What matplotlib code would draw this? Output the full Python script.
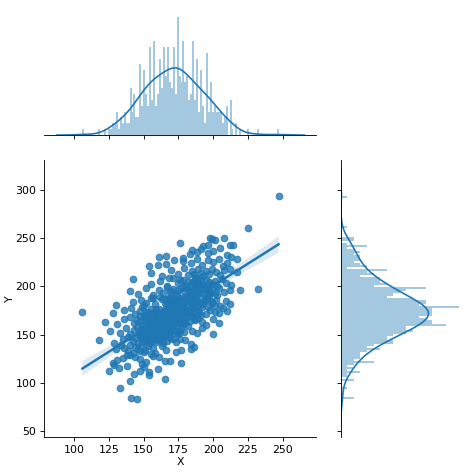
import numpy as np
import matplotlib
matplotlib.use("Agg")
import matplotlib.pyplot as plt
import seaborn as sns

# points, grouped by Y band (low to high)
x_vals = [
    141, 145, 133,
    140, 165, 143, 154,
    125, 132, 147, 154, 138, 150, 129, 160,
    128, 177, 165, 169, 152, 157, 147, 135, 140, 131, 144, 161, 138, 149,
    130, 177, 184, 186, 173, 166, 163, 136, 139, 142, 144, 146, 148, 150, 151, 153, 155, 157, 140, 158, 134, 147,
    118, 129, 135, 139, 142, 144, 146, 147, 149, 150, 151, 152, 153, 154, 155, 156, 157, 158, 159, 160,
    161, 162, 164, 165, 167, 169, 171, 173, 176, 180, 184, 148, 156, 163,
    126, 133, 137, 140, 143, 145, 147, 148, 150, 151, 152, 153, 154, 155, 156, 157, 157, 158, 159, 160,
    160, 161, 175, 162, 163, 164, 165, 166, 167, 168, 169, 170, 171, 172, 174, 175, 177, 179, 182, 185,
    188, 192, 200, 149, 155, 159, 163, 166, 170, 176,
    122, 131, 136, 140, 143, 145, 147, 149, 151, 152, 153, 154, 155, 156, 157, 158, 159, 160, 176, 161,
    162, 163, 178, 164, 165, 165, 166, 167, 180, 168, 169, 169, 170, 171, 172, 173, 174, 175, 176, 177,
    178, 179, 181, 183, 185, 187, 189, 192, 195, 200, 204, 150, 156, 161, 164, 168, 171, 175, 180, 186,
    158, 166, 173, 147,
    106, 128, 136, 141, 144, 147, 149, 151, 153, 155, 156, 174, 158, 177, 160, 191, 179, 196, 164, 165,
    166, 166, 167, 168, 168, 169, 170, 170, 171, 172, 172, 173, 174, 174, 175, 176, 176, 177, 178, 179,
    180, 181, 182, 183, 185, 186, 188, 190, 192, 195, 198, 201, 204, 207, 210, 152, 159, 165, 171, 177,
    183, 189, 163, 169, 175, 180, 158, 174, 187, 161,
    130, 142, 148, 152, 155, 158, 174, 162, 178, 166, 167, 168, 169, 170, 171, 193, 197, 173, 201, 175,
    175, 176, 194, 177, 178, 199, 180, 181, 182, 183, 184, 185, 186, 187, 189, 190, 192, 194, 196, 199,
    202, 205, 209, 212, 157, 165, 171, 176, 181, 188, 163, 174, 179, 185, 168, 195, 150, 178,
    140, 146, 152, 157, 161, 164, 167, 169, 171, 173, 175, 198, 177, 203, 179, 180, 196, 182, 183, 184,
    185, 186, 187, 188, 190, 191, 193, 195, 197, 199, 201, 204, 208, 212, 219, 232, 170, 180, 189, 196,
    174, 184,
    142, 155, 162, 167, 171, 175, 178, 180, 182, 184, 186, 187, 188, 189, 190, 191, 193, 195, 197, 199,
    201, 203, 206, 209, 213, 176, 185, 192, 168, 196,
    155, 163, 170, 175, 179, 182, 185, 187, 189, 191, 193, 195, 197, 199, 202, 205, 208, 212, 217, 186,
    154, 160, 166, 178, 184, 188, 192, 196, 200, 204, 210, 217, 172, 207,
    161, 166, 183, 188, 191, 196, 210, 213, 185, 200, 178,
    176, 193, 196, 199, 201, 205, 212, 214, 198, 208,
    225, 247,
]
y_vals = [
    84, 83, 95,
    102, 104, 109, 108,
    112, 115, 112, 111, 118, 116, 119, 114,
    121, 121, 123, 123, 122, 128, 125, 126, 129, 124, 127, 127, 129, 120,
    135, 134, 135, 137, 132, 134, 138, 136, 133, 131, 137, 135, 139, 132, 134, 138, 130, 136, 139, 131, 139, 133,
    144, 141, 146, 148, 143, 147, 141, 149, 145, 142, 148, 144, 146, 141, 149, 143, 147, 145, 142, 148,
    144, 146, 141, 149, 143, 147, 145, 142, 146, 144, 140, 149, 148, 143,
    154, 152, 157, 151, 155, 158, 153, 156, 150, 159, 154, 157, 152, 155, 158, 151, 156, 153, 159, 150,
    154, 157, 152, 155, 158, 151, 156, 153, 159, 150, 154, 157, 152, 155, 158, 151, 156, 153, 159, 154,
    152, 157, 151, 155, 158, 153, 156, 150, 159, 154,
    163, 161, 166, 168, 162, 165, 169, 160, 164, 167, 161, 166, 163, 168, 160, 165, 162, 169, 164, 167,
    163, 160, 166, 161, 168, 164, 162, 167, 165, 169, 160, 163, 166, 161, 168, 164, 162, 167, 165, 163,
    166, 161, 168, 164, 169, 165, 167, 163, 160, 166, 162, 168, 164, 161, 167, 163, 165, 169, 162, 166,
    165, 162, 168, 164,
    174, 172, 176, 178, 171, 175, 179, 170, 173, 177, 171, 176, 174, 178, 172, 170, 175, 179, 173, 177,
    171, 174, 176, 172, 178, 170, 175, 173, 179, 177, 172, 174, 171, 176, 178, 173, 170, 175, 179, 177,
    171, 174, 176, 172, 178, 175, 170, 173, 179, 171, 176, 174, 172, 178, 175, 173, 177, 170, 179, 171,
    174, 176, 172, 176, 178, 171, 174, 179, 173, 177,
    181, 184, 186, 183, 188, 182, 185, 189, 180, 187, 183, 186, 181, 188, 184, 182, 189, 185, 180, 187,
    182, 184, 186, 188, 181, 183, 189, 185, 187, 180, 184, 186, 182, 188, 181, 185, 183, 189, 187, 184,
    186, 180, 185, 182, 188, 183, 181, 186, 189, 184, 187, 182, 185, 183, 188, 186, 181, 184,
    195, 192, 198, 191, 196, 193, 199, 194, 197, 190, 196, 193, 198, 191, 195, 199, 192, 197, 194, 190,
    196, 193, 198, 191, 195, 199, 192, 197, 194, 196, 193, 198, 194, 196, 196, 197, 195, 199, 193, 197,
    192, 191,
    208, 203, 206, 201, 209, 204, 207, 202, 205, 200, 206, 203, 208, 201, 204, 209, 202, 207, 205, 203,
    206, 201, 208, 204, 202, 207, 205, 203, 209, 201,
    214, 211, 217, 213, 219, 212, 216, 210, 218, 214, 211, 216, 213, 218, 215, 212, 217, 218, 215, 213,
    221, 222, 223, 226, 224, 228, 222, 227, 225, 229, 224, 229, 227, 221,
    231, 232, 234, 236, 239, 235, 233, 231, 238, 237, 230,
    245, 242, 243, 249, 248, 240, 243, 243, 250, 250,
    261, 294,
]

x = np.array(x_vals, dtype=float)
y = np.array(y_vals, dtype=float)

color = "#1f77b4"

fig = plt.figure(figsize=(6, 6), dpi=79)
ax_joint = fig.add_axes([0.093, 0.078, 0.574, 0.584])
ax_top = fig.add_axes([0.093, 0.715, 0.574, 0.261], sharex=ax_joint)
ax_right = fig.add_axes([0.719, 0.078, 0.261, 0.584], sharey=ax_joint)

sns.regplot(x=x, y=y, ax=ax_joint, color=color, seed=1,
            scatter_kws={"s": 36})
ax_joint.spines["top"].set_visible(False)
ax_joint.spines["right"].set_visible(False)

# marginal histograms + kde
ax_top.hist(x, bins=100, density=True, color=color, alpha=0.4)
sns.kdeplot(x=x, ax=ax_top, color=color, lw=1.5)
ax_right.hist(y, bins=100, density=True, color=color, alpha=0.4,
              orientation="horizontal")
sns.kdeplot(y=y, ax=ax_right, color=color, lw=1.5)

for s in ["top", "right", "left"]:
    ax_top.spines[s].set_visible(False)
for s in ["top", "right", "bottom"]:
    ax_right.spines[s].set_visible(False)
ax_top.tick_params(left=False, labelleft=False, labelbottom=False)
ax_right.tick_params(bottom=False, labelbottom=False, labelleft=False)
ax_top.set_ylabel("")
ax_top.set_xlabel("")
ax_right.set_xlabel("")
ax_right.set_ylabel("")
ax_top.set_ylim(bottom=0)
ax_right.set_xlim(left=0)

ax_joint.set_xlim(78.4, 274)
ax_joint.set_ylim(43.8, 331)
ax_joint.set_xlabel("X", labelpad=2)
ax_joint.set_ylabel("Y", labelpad=0.5)

fig.savefig("out.png", dpi=79)
